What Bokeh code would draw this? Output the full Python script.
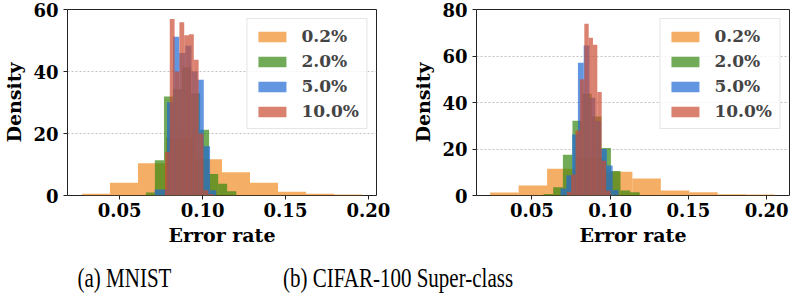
from bokeh.plotting import figure
from bokeh.models import (FixedTicker, NumeralTickFormatter, Legend, LegendItem,
                          Div, ColumnDataSource, Range1d)
from bokeh.layouts import row, column
from bokeh.embed import file_html
from bokeh.resources import INLINE

# ---------------- data ----------------
series_labels = ["0.2%", "2.0%", "5.0%", "10.0%"]
series_colors = ["#F18B23", "#358810", "#2169D4", "#CA4C33"]
captions = ["(a) MNIST", "(b) CIFAR-100 Super-class"]
x_ticks = [0.05, 0.10, 0.15, 0.20]
mnist_y_ticks = [0, 20, 40, 60]
cifar_y_ticks = [0, 20, 40, 60, 80]

# MNIST: histogram bin edges and densities per series
mnist_edges_02 = [0.0272, 0.0441, 0.0610, 0.0779, 0.0948, 0.1117, 0.1286, 0.1455, 0.1624, 0.1793, 0.1962]
mnist_dens_02 = [0.6, 4.1, 10.4, 18.7, 11.7, 7.5, 4.1, 1.2, 0.6, 0.3]
mnist_edges_20 = [0.0658, 0.0712, 0.0767, 0.0821, 0.0876, 0.0930, 0.0985, 0.1039, 0.1094, 0.1148, 0.1203]
mnist_dens_20 = [1.0, 11.4, 31.9, 34.3, 41.4, 33.0, 21.2, 6.9, 3.8, 1.4]
mnist_edges_50 = [0.0711, 0.0748, 0.0785, 0.0822, 0.0859, 0.0896, 0.0933, 0.0970, 0.1007, 0.1045, 0.1082]
mnist_dens_50 = [1.9, 1.9, 30.1, 51.2, 46.0, 48.3, 40.0, 37.3, 15.9, 1.7]
mnist_edges_100 = [0.0773, 0.0802, 0.0831, 0.0860, 0.0889, 0.0918, 0.0947, 0.0976, 0.1005, 0.1034, 0.1064]
mnist_dens_100 = [14.0, 56.9, 40.0, 55.9, 51.7, 52.0, 43.8, 20.0, 1.7, 0.5]

# CIFAR-100 super-class
cifar_edges_02 = [0.0233, 0.0415, 0.0597, 0.0778, 0.0960, 0.1142, 0.1324, 0.1506, 0.1687, 0.1869, 0.2051]
cifar_dens_02 = [1.3, 4.3, 11.5, 16.0, 10.2, 7.3, 2.2, 1.4, 0.5, 0.4]
cifar_edges_20 = [0.0575, 0.0636, 0.0698, 0.0759, 0.0821, 0.0882, 0.0944, 0.1005, 0.1066, 0.1128, 0.1189]
cifar_dens_20 = [0.6, 3.5, 17.5, 32.2, 43.8, 34.0, 20.4, 10.5, 2.2, 1.4]
cifar_edges_50 = [0.0683, 0.0720, 0.0757, 0.0794, 0.0831, 0.0868, 0.0905, 0.0942, 0.0979, 0.1016, 0.1053]
cifar_dens_50 = [3.0, 8.7, 26.2, 57.1, 64.5, 42.0, 32.0, 20.0, 12.9, 2.4]
cifar_edges_100 = [0.0724, 0.0751, 0.0779, 0.0807, 0.0835, 0.0863, 0.0890, 0.0918, 0.0946, 0.0974, 0.1002]
cifar_dens_100 = [1.5, 9.0, 28.0, 50.0, 73.9, 67.9, 64.8, 44.5, 15.0, 2.0]

mnist_edges = [mnist_edges_02, mnist_edges_20, mnist_edges_50, mnist_edges_100]
mnist_dens = [mnist_dens_02, mnist_dens_20, mnist_dens_50, mnist_dens_100]
cifar_edges = [cifar_edges_02, cifar_edges_20, cifar_edges_50, cifar_edges_100]
cifar_dens = [cifar_dens_02, cifar_dens_20, cifar_dens_50, cifar_dens_100]

FONT = "DejaVu Serif"


def make_panel(edges_list, dens_list, xr, yr, yticks, width, border_right):
    p = figure(width=width, height=248, x_range=Range1d(*xr), y_range=Range1d(*yr),
               output_backend="svg", toolbar_location=None,
               min_border_left=56, min_border_right=border_right,
               min_border_top=9, min_border_bottom=0)
    items = []
    for lab, col, e, d in zip(series_labels, series_colors, edges_list, dens_list):
        src = ColumnDataSource(dict(left=e[:-1], right=e[1:], top=d, bottom=[0] * len(d)))
        r = p.quad(left="left", right="right", top="top", bottom="bottom", source=src,
                   fill_color=col, fill_alpha=0.7, line_color=None)
        items.append(LegendItem(label=lab, renderers=[r]))
    legend = Legend(items=items, location="top_right", margin=9, padding=7,
                    spacing=5, label_height=20, glyph_height=13, glyph_width=35,
                    label_standoff=12, label_text_font=FONT,
                    label_text_font_style="bold", label_text_font_size="17px",
                    border_line_color="#cccccc", border_line_width=1,
                    background_fill_color="white", background_fill_alpha=0.8)
    p.add_layout(legend)

    p.xaxis.ticker = FixedTicker(ticks=x_ticks)
    p.xaxis.formatter = NumeralTickFormatter(format="0.00")
    p.yaxis.ticker = FixedTicker(ticks=yticks)
    p.xaxis.axis_label = "Error rate"
    p.yaxis.axis_label = "Density"
    for ax in p.axis:
        ax.axis_label_text_font = FONT
        ax.axis_label_text_font_style = "bold"
        ax.axis_label_text_font_size = "19px"
        ax.major_label_text_font = FONT
        ax.major_label_text_font_style = "bold"
        ax.major_label_text_font_size = "18px"
        ax.major_label_text_color = "black"
        ax.axis_label_text_color = "black"
        ax.axis_line_color = None
        ax.major_tick_out = 4
        ax.major_tick_in = 0
        ax.minor_tick_out = 0
        ax.minor_tick_in = 0
        ax.major_tick_line_color = "#222222"
    p.xaxis.major_label_standoff = 3
    p.xaxis.axis_label_standoff = 4
    p.yaxis.major_label_standoff = 5
    p.yaxis.axis_label_standoff = 5
    p.xgrid.visible = False
    p.ygrid.grid_line_dash = "2 2"
    p.ygrid.grid_line_color = "#b0b0b0"
    p.ygrid.grid_line_width = 0.8
    p.outline_line_color = "#222222"
    p.outline_line_width = 1
    p.background_fill_color = "white"
    p.border_fill_color = "white"
    return p


p1 = make_panel(mnist_edges, mnist_dens, (0.0185, 0.2049), (0, 60), mnist_y_ticks, 409, 33)
p2 = make_panel(cifar_edges, cifar_dens, (0.0146, 0.2146), (0, 80), cifar_y_ticks, 385, 5)

span_style = ("position:absolute;display:block;top:17px;line-height:1;white-space:nowrap;"
              "transform:translateX(-50%) scaleY(1.3);transform-origin:50% 84%;")
caption_html = (
    '<div style="position:relative;width:794px;height:41px;'
    "font-family:'Liberation Serif','Times New Roman',serif;font-size:21px;color:#000;\">"
    f'<span style="{span_style}left:119.5px;">{captions[0]}</span>'
    f'<span style="{span_style}left:393px;">{captions[1]}</span>'
    '</div>'
)
cap = Div(text=caption_html, width=794, height=41)

layout = column(row(p1, p2), cap)
open("out.html", "w").write(file_html(layout, INLINE))
